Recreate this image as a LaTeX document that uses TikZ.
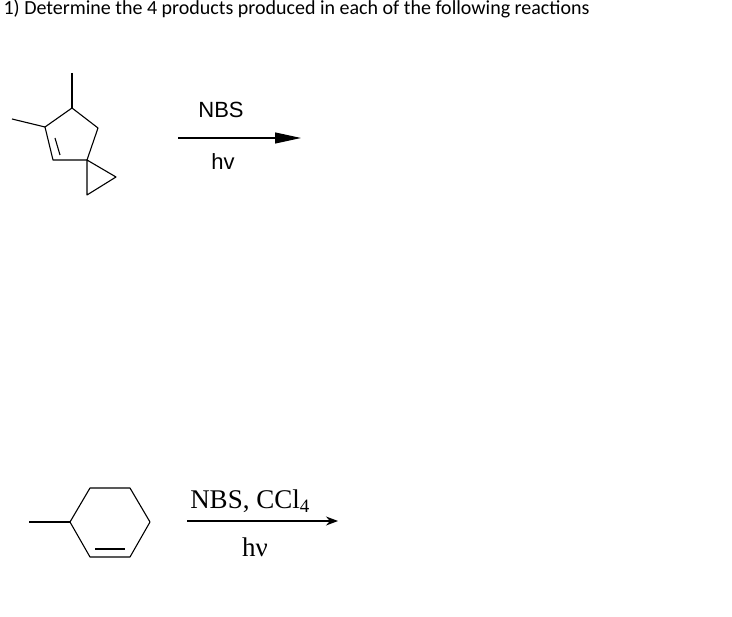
\documentclass[tikz,border=0pt]{standalone}
\usepackage{fontspec}
\setmainfont{Liberation Serif}
\newfontfamily\calfont{Carlito}
\newfontfamily\arialfont{Liberation Sans}
\usetikzlibrary{arrows.meta}
\begin{document}
\begin{tikzpicture}[x=1pt,y=-1pt,line width=1.1pt,
  bond/.style={draw=black,line width=1.1pt,line join=round},
  lbl/.style={inner sep=0pt}]
\useasboundingbox (0,0) rectangle (732,617);
\node[lbl,anchor=base west,font=\calfont\fontsize{20}{22}\selectfont] (title) at (3,15) {1) Determine the 4 products produced in each of the following reactions};
% molecule 1
\coordinate (m1) at (72,73);
\coordinate (a) at (72,108);
\coordinate (b) at (98,128);
\coordinate (s) at (87,160);
\coordinate (c) at (53,160);
\coordinate (d) at (45,127);
\coordinate (m2) at (12,119);
\coordinate (p1) at (116,177);
\coordinate (p2) at (87,195);
\draw[bond] (a)--(b)--(s)--(c)--(d)--cycle;
\draw[bond] (m1)--(a);
\draw[bond] (d)--(m2);
\draw[bond] (s)--(p1)--(p2)--cycle;
\draw[bond] (55,138)--(60,155);
% arrow 1
\coordinate (r1s) at (178,138);
\coordinate (r1e) at (301,138);
\draw[line width=1.1pt,-{Triangle[length=26pt,width=11pt]}] (r1s)--(r1e);
\node[lbl,font=\arialfont\fontsize{22}{24}\selectfont] (nbs) at (221,110) {NBS};
\node[lbl,font=\arialfont\fontsize{22}{24}\selectfont] (hv1) at (223,162) {hv};
% molecule 2
\coordinate (q0) at (29,522);
\coordinate (q1) at (70,522);
\coordinate (q2) at (90,488);
\coordinate (q3) at (130,488);
\coordinate (q4) at (150,522);
\coordinate (q5) at (130,557);
\coordinate (q6) at (90,557);
\draw[bond] (q1)--(q2)--(q3)--(q4)--(q5)--(q6)--cycle;
\draw[bond] (q0)--(q1);
\draw[bond] (95,549)--(125,549);
% arrow 2
\coordinate (r2s) at (187,521);
\coordinate (r2e) at (338,521);
\draw[line width=1.3pt,-{Stealth[length=12pt,width=9pt]}] (r2s)--(r2e);
\node[lbl,font=\fontsize{27}{29}\selectfont] (nbs2) at (250,501) {NBS, CCl\textsubscript{4}};
\node[lbl,font=\fontsize{27}{29}\selectfont] (hv2) at (255,547) {hν};
\end{tikzpicture}
\end{document}
